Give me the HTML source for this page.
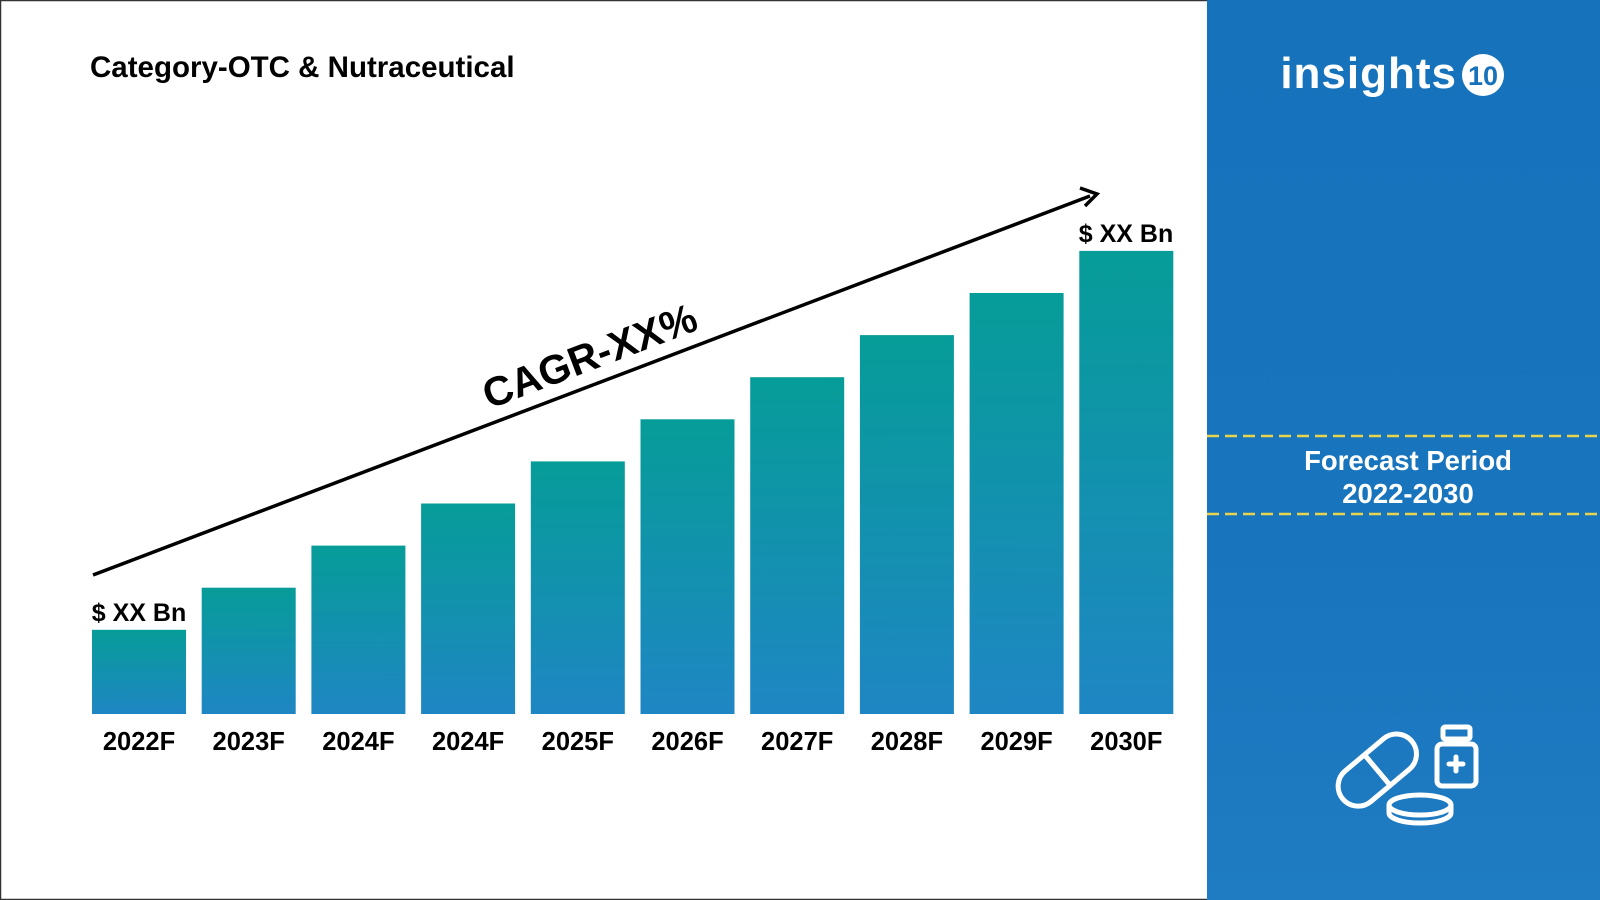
<!DOCTYPE html>
<html><head><meta charset="utf-8">
<style>
html,body{margin:0;padding:0;background:#fff;}
body{width:1600px;height:900px;overflow:hidden;position:relative;font-family:"Liberation Sans",Arial,sans-serif;}
</style></head>
<body>
<svg width="1600" height="900" viewBox="0 0 1600 900" style="position:absolute;left:0;top:0">
<defs>
<linearGradient id="barg" x1="0" y1="0" x2="0" y2="1">
<stop offset="0" stop-color="#069c98"/><stop offset="1" stop-color="#1f86c4"/>
</linearGradient>
<linearGradient id="pang" x1="0" y1="0" x2="0" y2="1">
<stop offset="0" stop-color="#1672bb"/><stop offset="0.6" stop-color="#1874bd"/><stop offset="1" stop-color="#1f7cc2"/>
</linearGradient>
</defs>
<rect x="0.5" y="0.5" width="1599" height="899" fill="#fff" stroke="#333" stroke-width="1.5"/>
<rect x="1207" y="0" width="393" height="900" fill="url(#pang)"/>
<text x="90" y="77" font-size="29.5" font-weight="bold" fill="#000">Category-OTC &amp; Nutraceutical</text>
<g id="bars"></g>
<g id="xlabels"></g>
<line x1="93" y1="575" x2="1090" y2="196" stroke="#000" stroke-width="3.5"/>
<polyline points="1080,188 1097,194 1085,206" fill="none" stroke="#000" stroke-width="3.5"/>
<text x="590" y="370" font-size="41" font-weight="bold" text-anchor="middle" transform="rotate(-20.8 590 357)">CAGR-XX%</text>
<text x="139" y="621" font-size="25" font-weight="bold" text-anchor="middle">$ XX Bn</text>
<text x="1126" y="242" font-size="25" font-weight="bold" text-anchor="middle">$ XX Bn</text>
<text x="1457" y="88" font-size="44" font-weight="bold" fill="#fff" text-anchor="end" letter-spacing="1">insights</text>
<circle cx="1483" cy="75" r="21" fill="#fff"/>
<text x="1483" y="85" font-size="27" font-weight="bold" fill="#1672bb" text-anchor="middle">10</text>
<line x1="1207" y1="436" x2="1600" y2="436" stroke="#e8d34a" stroke-width="2.5" stroke-dasharray="12,6"/>
<line x1="1207" y1="514" x2="1600" y2="514" stroke="#e8d34a" stroke-width="2.5" stroke-dasharray="12,6"/>
<text x="1408" y="470" font-size="27.5" font-weight="bold" fill="#fff" text-anchor="middle">Forecast Period</text>
<text x="1408" y="503" font-size="27.5" font-weight="bold" fill="#fff" text-anchor="middle">2022-2030</text>
<g fill="none" stroke="#fff" stroke-width="5" stroke-linecap="round" stroke-linejoin="round">
<g transform="rotate(-40 1375 772)"><rect x="1333" y="752" width="90" height="40" rx="20"/><line x1="1378" y1="752" x2="1378" y2="792"/></g>
<ellipse cx="1420" cy="805" rx="31" ry="10"/><path d="M1389 805v8a31 10 0 0 0 62 0v-8"/>
<rect x="1437" y="744" width="39" height="42" rx="5"/><rect x="1443" y="727" width="27" height="12" rx="2"/>
<path d="M1456 757v14M1449 764h14"/>
</g>
</svg>
<script>
const categories=["2022F","2023F","2024F","2024F","2025F","2026F","2027F","2028F","2029F","2030F"];
const values=[2,3,4,5,6,7,8,9,10,11];
const NS="http://www.w3.org/2000/svg";
const baseY=714, unit=42.1, x0=92, step=109.7, bw=94;
function xPos(i){return x0+i*step;}
function yPos(v){return baseY-v*unit;}
const bars=document.getElementById('bars'), xl=document.getElementById('xlabels');
values.forEach((v,i)=>{
  const r=document.createElementNS(NS,'rect');
  r.setAttribute('x',xPos(i));r.setAttribute('y',yPos(v));
  r.setAttribute('width',bw);r.setAttribute('height',baseY-yPos(v));
  r.setAttribute('fill','url(#barg)');
  
  
  bars.appendChild(r);
  const t=document.createElementNS(NS,'text');
  t.setAttribute('x',xPos(i)+bw/2);t.setAttribute('y',750);
  t.setAttribute('font-size','25.5');t.setAttribute('font-weight','bold');
  t.setAttribute('text-anchor','middle');
  t.textContent=categories[i];
  
  
  xl.appendChild(t);
});
</script>
</body></html>
